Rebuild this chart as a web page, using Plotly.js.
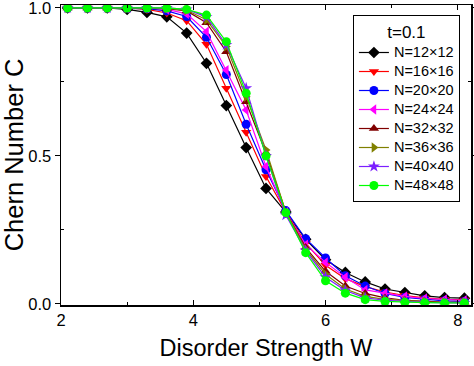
<!DOCTYPE html>
<html><head><meta charset="utf-8">
<script src="https://cdn.plot.ly/plotly-3.0.1.min.js"></script>
<style>html,body{margin:0;padding:0;background:#fff}#c{width:474px;height:366px}</style>
</head><body><div id="c"></div>
<script>
const W = [2.1,2.4,2.7,3.0,3.3,3.6,3.9,4.2,4.5,4.8,5.1,5.4,5.7,6.0,6.3,6.6,6.9,7.2,7.5,7.8,8.1];
const seriesNames = ["N=12×12","N=16×16","N=20×20","N=24×24","N=32×32","N=36×36","N=40×40","N=48×48"];
const c12 = [1,1,1,0.995,0.985,0.97,0.915,0.813,0.67,0.528,0.39,0.31,0.218,0.149,0.106,0.074,0.05,0.038,0.027,0.021,0.019];
const c16 = [1,1,1,1,0.995,0.983,0.957,0.877,0.729,0.58,0.43,0.31,0.205,0.13,0.085,0.058,0.04,0.028,0.02,0.015,0.013];
const c20 = [1,1,1,1,0.998,0.99,0.971,0.901,0.775,0.607,0.453,0.315,0.22,0.155,0.095,0.06,0.035,0.022,0.015,0.01,0.008];
const c24 = [1,1,1,1,1,0.995,0.98,0.92,0.79,0.655,0.464,0.31,0.2,0.14,0.09,0.047,0.036,0.025,0.018,0.015,0.012];
const c32 = [1,1,1,1,1,0.998,0.99,0.95,0.852,0.683,0.51,0.31,0.19,0.11,0.06,0.035,0.02,0.012,0.008,0.006,0.005];
const c36 = [1,1,1,1,1,0.999,0.992,0.96,0.87,0.7,0.52,0.31,0.185,0.1,0.05,0.025,0.015,0.01,0.007,0.005,0.004];
const c40 = [1,1,1,1,1,1,0.995,0.97,0.875,0.729,0.5,0.3,0.18,0.09,0.045,0.02,0.012,0.008,0.005,0.004,0.003];
const c48 = [1,1,1,1,1,1,0.995,0.976,0.886,0.712,0.5,0.308,0.173,0.078,0.036,0.014,0.008,0.005,0.004,0.003,0.003];
const allY = [c12,c16,c20,c24,c32,c36,c40,c48];
const colors = ["#000000","#ff0000","#0000ff","#ff00ff","#800000","#808000","#7b1fff","#00ff00"];
const symbols = ["diamond","triangle-down","circle","triangle-left","triangle-up","triangle-right","star","circle"];

const traces = allY.map((y,i)=>({
  x: W, y: y, name: '<span style="font-size:14.5px">' + seriesNames[i] + '</span>',
  type: "scatter", mode: "lines+markers",
  line: {color: colors[i], width: 1.2},
  marker: {color: colors[i], symbol: symbols[i], size: 9, line: {width: 0}}
}));

const layout = {
  width: 474, height: 366,
  margin: {l: 61, r: 3, t: 5, b: 61},
  paper_bgcolor: "#fff", plot_bgcolor: "#fff",
  font: {family: "Liberation Sans, Arial, sans-serif", color: "#000"},
  showlegend: true,
  legend: {
    x: 0.712, y: 0.967, xanchor: "left", yanchor: "top",
    bgcolor: "#fff", bordercolor: "#000", borderwidth: 1,
    font: {size: 12, color: "#000"},
    title: {text: "t=0.1", side: "top center", font: {size: 17, color: "#000"}},
    tracegroupgap: 0
  },
  xaxis: {
    range: [2, 8.2], tickvals: [2,4,6,8], ticktext: ["2","4","6","8"],
    ticks: "inside", ticklen: 5, tickwidth: 1, tickcolor: "#000",
    minor: {tickvals: [3,5,7], ticks: "inside", ticklen: 3, tickcolor: "#000"},
    showline: true, linecolor: "#000", linewidth: 1.5, mirror: "ticks",
    showgrid: false, zeroline: false, ticklabeloverflow: "allow",
    tickfont: {size: 16.5},
    title: {text: "Disorder Strength W", font: {size: 23.5}, standoff: 11}
  },
  yaxis: {
    range: [-0.004, 1.01], tickvals: [0,0.5,1], ticktext: ["0.0","0.5","1.0"],
    ticks: "outside", ticklen: 5, tickwidth: 1, tickcolor: "#000",
    minor: {tickvals: [0.25,0.75], ticks: "inside", ticklen: 3, tickcolor: "#000"},
    showline: true, linecolor: "#000", linewidth: 1.5, mirror: "ticks",
    showgrid: false, zeroline: false, ticklabeloverflow: "allow",
    tickfont: {size: 16.5},
    title: {text: "Chern Number C", font: {size: 25.5}, standoff: 2}
  }
};
Plotly.newPlot("c", traces, layout, {staticPlot: true, displayModeBar: false});
</script>
</body></html>
